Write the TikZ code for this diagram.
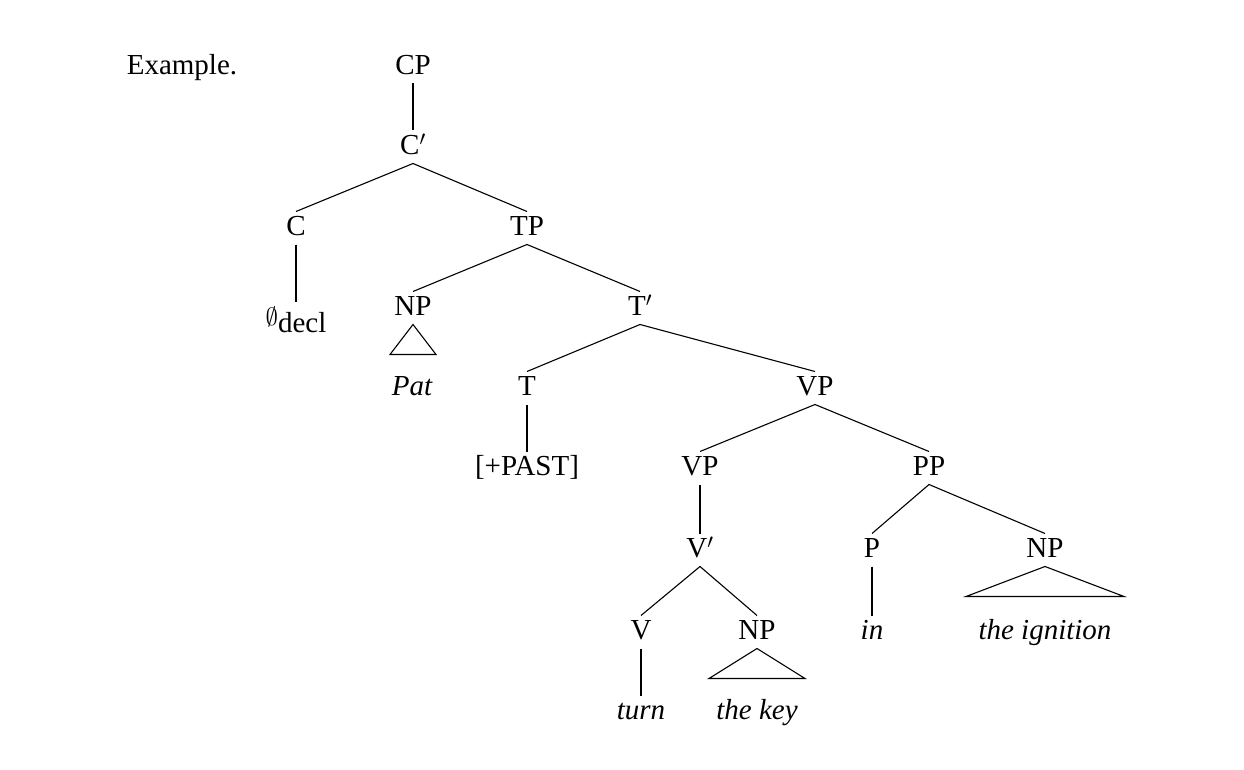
\documentclass[tikz,border=0pt]{standalone}
\usepackage{fontspec}
\setmainfont{Liberation Serif}
\begin{document}
\begin{tikzpicture}[x=1pt,y=-1pt,
  lab/.style={inner sep=0pt, outer sep=4pt, font=\fontsize{29}{32}\selectfont, text height=20pt, text depth=5pt},
  br/.style={line width=1.1pt}]
\useasboundingbox (0,0) rectangle (1244,770);
\node[lab] (ex) at (182,67) {Example.};
\node[lab] (cp) at (413,67) {CP};
\node[lab] (cb) at (413,147) {C$'$};
\node[lab] (c) at (296,228) {C};
\node[lab] (tp) at (527,228) {TP};
\node[lab] (null) at (296,318) {$\emptyset$\raisebox{-7pt}{decl}};
\node[lab] (np1) at (413,308) {NP};
\node[lab] (tb) at (640,308) {T$'$};
\node[lab] (pat) at (412,388) {\itshape Pat};
\node[lab] (t) at (527,388) {T};
\node[lab] (vp) at (815,388) {VP};
\node[lab] (past) at (527,468) {[+PAST]};
\node[lab] (vp2) at (700,468) {VP};
\node[lab] (pp) at (929,468) {PP};
\node[lab] (vb) at (700,550) {V$'$};
\node[lab] (p) at (872,550) {P};
\node[lab] (np3) at (1045,550) {NP};
\node[lab] (v) at (641,632) {V};
\node[lab] (np4) at (757,632) {NP};
\node[lab] (in) at (872,632) {\itshape in};
\node[lab] (ign) at (1045,632) {\itshape the ignition};
\node[lab] (turn) at (641,712) {\itshape turn};
\node[lab] (key) at (757,712) {\itshape the key};
\draw[br] (cp.south) -- (cb.north);
\draw[br] (c.north) -- (cb.south) -- (tp.north);
\draw[br] (c.south) -- (null.north -| c.south);
\draw[br] (np1.north) -- (tp.south) -- (tb.north);
\draw[br] (np1.south) -- ++(-23,30) -- ++(46,0) -- cycle;
\draw[br] (t.north) -- (tb.south) -- (vp.north);
\draw[br] (t.south) -- (past.north);
\draw[br] (vp2.north) -- (vp.south) -- (pp.north);
\draw[br] (vp2.south) -- (vb.north);
\draw[br] (p.north) -- (pp.south) -- (np3.north);
\draw[br] (p.south) -- (in.north);
\draw[br] (np3.south) -- ++(-79,30) -- ++(158,0) -- cycle;
\draw[br] (v.north) -- (vb.south) -- (np4.north);
\draw[br] (v.south) -- (turn.north);
\draw[br] (np4.south) -- ++(-48,30) -- ++(96,0) -- cycle;
\end{tikzpicture}
\end{document}
